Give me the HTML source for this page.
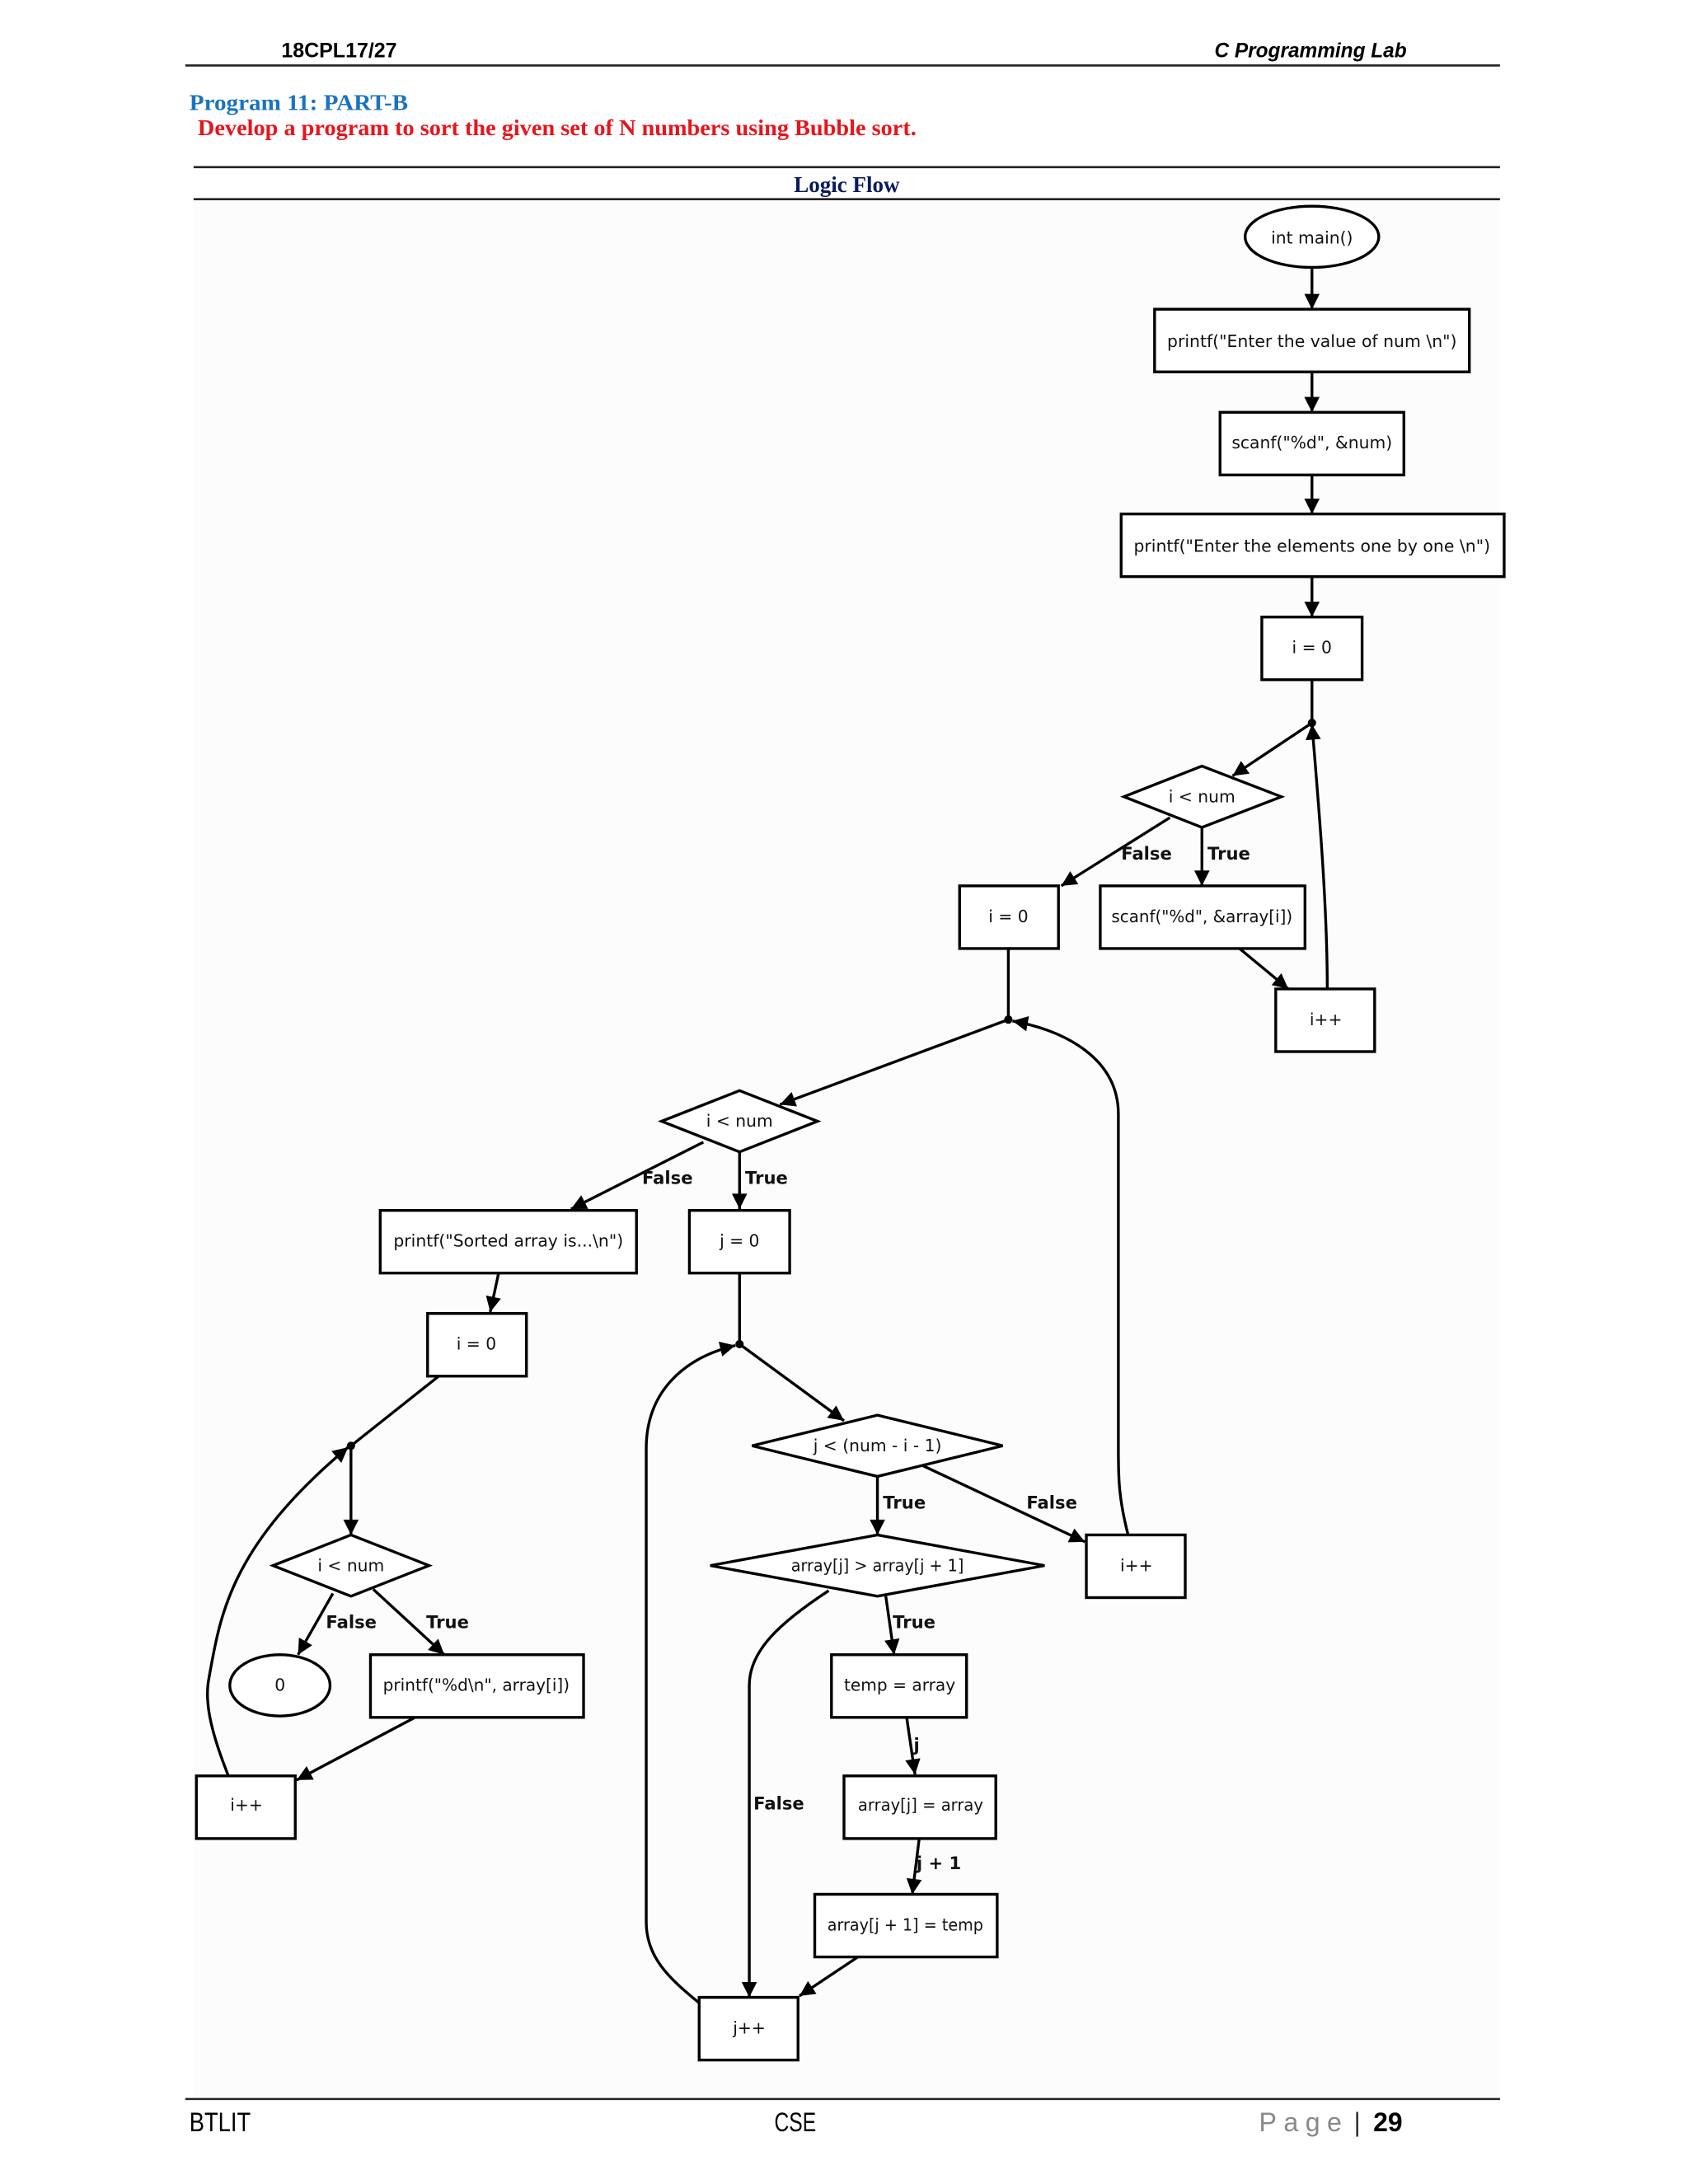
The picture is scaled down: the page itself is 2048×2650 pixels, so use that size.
<!DOCTYPE html>
<html><head><meta charset="utf-8"><style>
html,body{margin:0;padding:0;background:#fff;}
svg{display:block;}
.n{font-family:"DejaVu Sans","Liberation Sans",sans-serif;font-size:12px;fill:#111;text-anchor:middle;}
.l{font-family:"DejaVu Sans","Liberation Sans",sans-serif;font-size:12.5px;font-weight:bold;fill:#111;}
.s{fill:none;stroke:#000;stroke-width:2;}
.b{fill:#fff;stroke:#000;stroke-width:2;}
</style></head><body>
<svg width="2048" height="2650" viewBox="0 0 1212 1568" preserveAspectRatio="none" xmlns="http://www.w3.org/2000/svg">
<defs><marker id="m" viewBox="0 0 10 10" refX="10" refY="5" markerWidth="13" markerHeight="11" orient="auto" markerUnits="userSpaceOnUse"><path d="M0,0 L10,5 L0,10 z" fill="#000"/></marker></defs>
<rect x="0" y="0" width="1212" height="1568" fill="#fff"/>
<rect x="139" y="144" width="938" height="1362" fill="#fcfcfc"/>
<text x="202" y="41" font-family="Liberation Sans Narrow,Liberation Sans,sans-serif" font-weight="bold" font-size="15" textLength="83" lengthAdjust="spacingAndGlyphs">18CPL17/27</text>
<text x="1010" y="41" text-anchor="end" font-family="Liberation Sans,sans-serif" font-weight="bold" font-style="italic" font-size="15" textLength="138" lengthAdjust="spacingAndGlyphs">C Programming Lab</text>
<line x1="133" y1="47" x2="1077" y2="47" stroke="#222" stroke-width="1.5"/>
<text x="136" y="79" font-family="Liberation Serif,serif" font-weight="bold" font-size="16" fill="#1a73c0" textLength="157" lengthAdjust="spacingAndGlyphs">Program 11: PART-B</text>
<text x="142" y="97" font-family="Liberation Serif,serif" font-weight="bold" font-size="16" fill="#e8141c" textLength="516" lengthAdjust="spacingAndGlyphs">Develop a program to sort the given set of N numbers using Bubble sort.</text>
<line x1="139" y1="120" x2="1077" y2="120" stroke="#222" stroke-width="1.5"/>
<text x="608" y="138" text-anchor="middle" font-family="Liberation Serif,serif" font-weight="bold" font-size="16" fill="#0b1a5c">Logic Flow</text>
<line x1="139" y1="143" x2="1077" y2="143" stroke="#222" stroke-width="1.5"/>

<g class="s" marker-end="url(#m)">
<line x1="942" y1="192" x2="942" y2="222"/>
<line x1="942" y1="267" x2="942" y2="296"/>
<line x1="942" y1="341" x2="942" y2="369"/>
<line x1="942" y1="414" x2="942" y2="443"/>
<line x1="942" y1="519" x2="885" y2="557"/>
<line x1="840" y1="587" x2="762" y2="636"/>
<line x1="863" y1="594" x2="863" y2="636"/>
<line x1="890" y1="681" x2="925" y2="710"/>
<path d="M953,710 C953,650 947,580 942,520"/>
<line x1="724" y1="732" x2="560" y2="793"/>
<path d="M810,1102 C803,1075 803,1060 803,1040 L803,800 C803,760 765,740 727,733"/>
<line x1="505" y1="820" x2="410" y2="868"/>
<line x1="531" y1="827" x2="531" y2="868"/>
<line x1="358" y1="914" x2="352" y2="942"/>
<line x1="252" y1="1038" x2="252" y2="1102"/>
<line x1="239" y1="1144" x2="214" y2="1188"/>
<line x1="268" y1="1141" x2="319" y2="1188"/>
<line x1="298" y1="1233" x2="213" y2="1278"/>
<path d="M164,1275 C150,1240 147,1220 150,1205 C158,1160 165,1110 250,1039"/>
<line x1="531" y1="965" x2="606" y2="1020"/>
<line x1="630" y1="1060" x2="630" y2="1102"/>
<line x1="662" y1="1052" x2="779" y2="1107"/>
<line x1="636" y1="1146" x2="642" y2="1188"/>
<line x1="651" y1="1233" x2="657" y2="1274"/>
<line x1="660" y1="1320" x2="655" y2="1360"/>
<line x1="616" y1="1405" x2="574" y2="1433"/>
<path d="M595,1142 C560,1165 538,1185 538,1210 L538,1434"/>
<path d="M502,1438 C480,1420 464,1405 464,1380 L464,1040 C464,1000 490,975 528,966"/>
</g>
<g class="s">
<line x1="942" y1="488" x2="942" y2="519"/>
<line x1="724" y1="681" x2="724" y2="732"/>
<line x1="531" y1="914" x2="531" y2="965"/>
<line x1="315" y1="988" x2="252" y2="1038"/>
</g>
<g fill="#000"><circle cx="942" cy="519" r="3"/><circle cx="724" cy="732" r="3"/><circle cx="531" cy="965" r="3"/><circle cx="252" cy="1038" r="3"/></g>

<ellipse class="b" cx="942" cy="170" rx="48" ry="22"/><text class="n" x="942" y="175">int  main()</text>
<rect class="b" x="829" y="222" width="226" height="45"/><text class="n" x="942" y="249" textLength="208" lengthAdjust="spacingAndGlyphs">printf("Enter the value of num \n")</text>
<rect class="b" x="876" y="296" width="132" height="45"/><text class="n" x="942" y="322">scanf("%d", &amp;num)</text>
<rect class="b" x="805" y="369" width="275" height="45"/><text class="n" x="942" y="396" textLength="256" lengthAdjust="spacingAndGlyphs">printf("Enter the elements one by one \n")</text>
<rect class="b" x="906" y="443" width="72" height="45"/><text class="n" x="942" y="469">i = 0</text>
<polygon class="b" points="807,572 863,550 920,572 863,594"/><text class="n" x="863" y="576">i &lt; num</text>
<rect class="b" x="689" y="636" width="71" height="45"/><text class="n" x="724" y="662">i = 0</text>
<rect class="b" x="790" y="636" width="147" height="45"/><text class="n" x="863" y="662" textLength="130" lengthAdjust="spacingAndGlyphs">scanf("%d", &amp;array[i])</text>
<rect class="b" x="916" y="710" width="71" height="45"/><text class="n" x="952" y="736">i++</text>
<polygon class="b" points="475,805 531,783 587,805 531,827"/><text class="n" x="531" y="809">i &lt; num</text>
<rect class="b" x="273" y="869" width="184" height="45"/><text class="n" x="365" y="895" textLength="165" lengthAdjust="spacingAndGlyphs">printf("Sorted array is...\n")</text>
<rect class="b" x="495" y="869" width="72" height="45"/><text class="n" x="531" y="895">j = 0</text>
<rect class="b" x="307" y="943" width="71" height="45"/><text class="n" x="342" y="969">i = 0</text>
<polygon class="b" points="196,1124 252,1102 308,1124 252,1146"/><text class="n" x="252" y="1128">i &lt; num</text>
<ellipse class="b" cx="201" cy="1210" rx="36" ry="22"/><text class="n" x="201" y="1214">0</text>
<rect class="b" x="266" y="1188" width="153" height="45"/><text class="n" x="342" y="1214" textLength="134" lengthAdjust="spacingAndGlyphs">printf("%d\n", array[i])</text>
<rect class="b" x="141" y="1275" width="71" height="45"/><text class="n" x="177" y="1300">i++</text>
<polygon class="b" points="540,1038 630,1016 720,1038 630,1060"/><text class="n" x="630" y="1042">j &lt; (num - i - 1)</text>
<polygon class="b" points="510,1124 630,1102 750,1124 630,1146"/><text class="n" x="630" y="1128" textLength="124" lengthAdjust="spacingAndGlyphs">array[j] &gt; array[j + 1]</text>
<rect class="b" x="780" y="1102" width="71" height="45"/><text class="n" x="816" y="1128">i++</text>
<rect class="b" x="597" y="1188" width="97" height="45"/><text class="n" x="646" y="1214" textLength="80" lengthAdjust="spacingAndGlyphs">temp = array</text>
<rect class="b" x="606" y="1275" width="109" height="45"/><text class="n" x="661" y="1300" textLength="90" lengthAdjust="spacingAndGlyphs">array[j] = array</text>
<rect class="b" x="585" y="1360" width="131" height="45"/><text class="n" x="650" y="1386" textLength="112" lengthAdjust="spacingAndGlyphs">array[j + 1] = temp</text>
<rect class="b" x="502" y="1434" width="71" height="45"/><text class="n" x="538" y="1460">j++</text>

<text class="l" x="805" y="617">False</text><text class="l" x="867" y="617">True</text>
<text class="l" x="461" y="850">False</text><text class="l" x="535" y="850">True</text>
<text class="l" x="234" y="1169">False</text><text class="l" x="306" y="1169">True</text>
<text class="l" x="634" y="1083">True</text><text class="l" x="737" y="1083">False</text>
<text class="l" x="641" y="1169">True</text>
<text class="l" x="656" y="1257">j</text><text class="l" x="658" y="1342">j + 1</text>
<text class="l" x="541" y="1299">False</text>

<line x1="133" y1="1507" x2="1077" y2="1507" stroke="#222" stroke-width="1.5"/>
<text x="136" y="1530" font-family="Liberation Sans Narrow,Liberation Sans,sans-serif" font-size="19" textLength="44" lengthAdjust="spacingAndGlyphs">BTLIT</text>
<text x="556" y="1530" font-family="Liberation Sans Narrow,Liberation Sans,sans-serif" font-size="19" textLength="30" lengthAdjust="spacingAndGlyphs">CSE</text>
<text x="904" y="1530" font-family="Liberation Sans,sans-serif" font-size="19" fill="#888" letter-spacing="5">Page</text>
<text x="972" y="1530" font-family="Liberation Sans,sans-serif" font-size="19" fill="#333">|</text>
<text x="986" y="1530" font-family="Liberation Sans Narrow,Liberation Sans,sans-serif" font-weight="bold" font-size="19" textLength="21" lengthAdjust="spacingAndGlyphs">29</text>
</svg>
</body></html>
